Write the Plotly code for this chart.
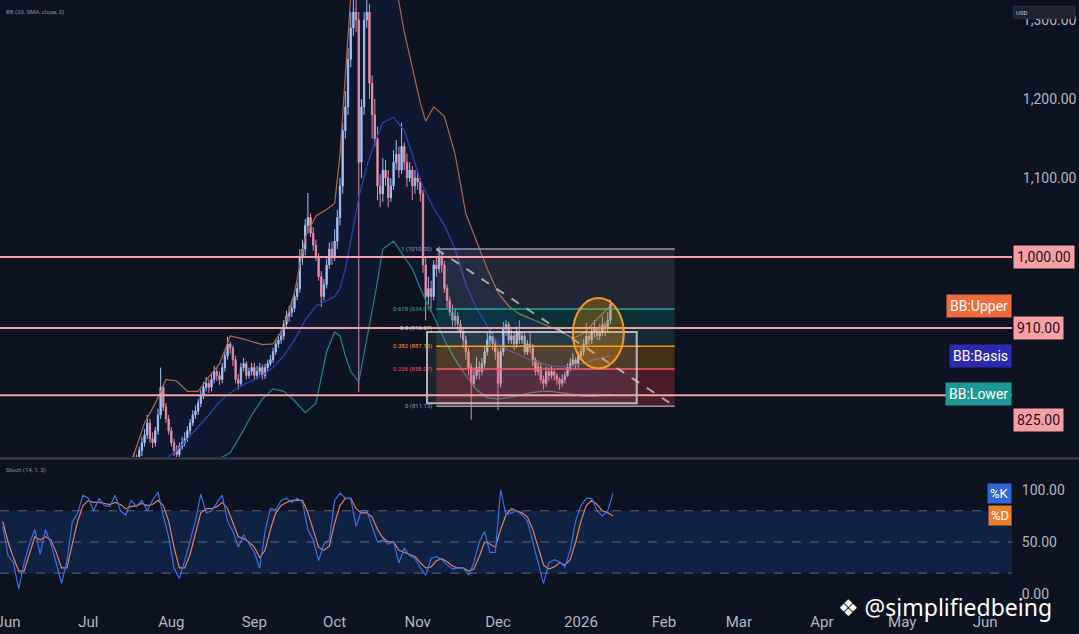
import pandas as pd
import plotly.graph_objects as go

# daily candles 2025-07-14 .. 2026-01-12 (earlier days sit below the visible range)
candle_start = "2025-07-14"
opens = [
    680, 690, 700, 715, 730, 745, 740, 755, 765, 775, 790, 770, 765, 780, 800, 835, 810, 795,  # Jul
    780, 765, 755, 750, 760, 765, 770, 780, 790, 800, 805, 815, 825, 835, 840, 835, 845, 855,
    850, 845, 860, 875, 890, 885, 870, 845, 840, 860, 865, 850, 855,  # Aug
    860, 850, 855, 860, 850, 860, 865, 870, 880, 890, 895, 900, 915, 925, 930, 935, 950, 960,
    1000, 1010, 1040, 1050, 1030, 1015, 1000, 975, 950, 965, 990, 1010,  # Sep
    1000, 1020, 1050, 1090, 1160, 1190, 1250, 1290, 1310, 1300, 1120, 1190, 1300, 1310, 1220,
    1180, 1150, 1090, 1080, 1110, 1100, 1075, 1090, 1120, 1130, 1110, 1140, 1120, 1100, 1110, 1090,  # Oct
    1100, 1095, 1080, 990, 950, 960, 950, 990, 985, 1000, 990, 960, 945, 930, 920, 925, 915, 905,
    895, 880, 860, 840, 850, 860, 855, 865, 880, 895, 900, 890,  # Nov
    880, 840, 880, 910, 915, 895, 900, 890, 905, 895, 900, 880, 890, 885, 870, 855, 860, 845,
    840, 855, 850, 855, 850, 845, 840, 845, 850, 860, 865, 870, 865,  # Dec
    875, 880, 890, 900, 895, 905, 910, 900, 905, 915, 910, 920,  # Jan
]
highs = [
    695, 708, 720, 738, 752, 750, 760, 772, 782, 800, 795, 778, 785, 808, 860, 838, 815, 800,
    785, 770, 762, 765, 772, 778, 786, 795, 806, 812, 820, 832, 842, 848, 845, 852, 862, 860,
    855, 866, 882, 899, 893, 888, 875, 852, 866, 872, 868, 860, 866,
    866, 862, 866, 864, 865, 870, 876, 885, 896, 902, 908, 920, 932, 938, 945, 958, 968, 1010,
    1022, 1048, 1081, 1055, 1038, 1022, 1005, 982, 972, 998, 1018, 1020,
    1035, 1060, 1100, 1170, 1210, 1265, 1310, 1340, 1335, 1310, 1200, 1310, 1370, 1320, 1230,
    1200, 1165, 1105, 1125, 1123, 1110, 1100, 1135, 1148, 1140, 1170, 1145, 1131, 1120, 1115, 1110,
    1110, 1100, 1085, 1000, 975, 970, 996, 1000, 1013, 1005, 995, 965, 950, 940, 935, 930, 920, 910,
    900, 885, 865, 860, 873, 868, 872, 888, 904, 910, 905, 895,
    885, 885, 918, 920, 918, 908, 905, 912, 920, 905, 904, 895, 904, 890, 873, 868, 865, 850,
    861, 860, 862, 858, 853, 848, 852, 855, 865, 872, 878, 873, 880,
    886, 896, 916, 905, 912, 920, 912, 915, 925, 918, 930, 946,
]
lows = [
    675, 685, 695, 710, 725, 735, 735, 748, 760, 770, 765, 758, 760, 775, 795, 805, 790, 775,
    760, 748, 742, 746, 756, 760, 766, 776, 786, 795, 800, 810, 820, 830, 828, 830, 840, 843,
    838, 840, 855, 870, 878, 862, 840, 832, 836, 855, 845, 846, 850,
    844, 845, 850, 845, 846, 855, 862, 866, 876, 885, 890, 895, 910, 918, 924, 930, 945, 955,
    990, 1002, 1030, 1025, 1008, 995, 970, 937, 945, 960, 985, 990,
    995, 1010, 1040, 1080, 1150, 1180, 1240, 1280, 1285, 829, 1100, 1180, 1290, 1200, 1150,
    1140, 1072, 1063, 1070, 1090, 1063, 1070, 1085, 1110, 1100, 1105, 1110, 1089, 1095, 1072, 1080,
    1085, 1070, 980, 920, 940, 935, 945, 975, 980, 980, 955, 935, 925, 912, 912, 905, 898, 885,
    870, 850, 794, 835, 845, 845, 850, 860, 875, 888, 882, 870,
    806, 835, 875, 900, 890, 890, 882, 885, 890, 890, 876, 876, 878, 862, 850, 850, 840, 832,
    836, 843, 846, 844, 838, 832, 836, 840, 848, 855, 862, 858, 860,
    870, 875, 885, 888, 890, 898, 895, 895, 900, 900, 905, 915,
]
closes = [
    690, 700, 715, 730, 745, 740, 755, 765, 775, 790, 770, 765, 780, 800, 835, 810, 795, 780,
    765, 755, 750, 760, 765, 770, 780, 790, 800, 805, 815, 825, 835, 840, 835, 845, 855, 850,
    845, 860, 875, 890, 885, 870, 845, 840, 860, 865, 850, 855, 860,
    850, 855, 860, 850, 860, 865, 870, 880, 890, 895, 900, 915, 925, 930, 935, 950, 960, 1000,
    1010, 1040, 1050, 1030, 1015, 1000, 975, 950, 965, 990, 1010, 1000,
    1020, 1050, 1090, 1160, 1190, 1250, 1290, 1310, 1300, 1120, 1190, 1300, 1310, 1220, 1180,
    1150, 1090, 1080, 1110, 1100, 1075, 1090, 1120, 1130, 1110, 1140, 1120, 1100, 1110, 1090, 1100,
    1095, 1080, 990, 950, 960, 950, 990, 985, 1000, 990, 960, 945, 930, 920, 925, 915, 905, 895,
    880, 860, 840, 850, 860, 855, 865, 880, 895, 900, 890, 880,
    840, 880, 910, 915, 895, 900, 890, 905, 895, 900, 880, 890, 885, 870, 855, 860, 845, 840,
    855, 850, 855, 850, 845, 840, 845, 850, 860, 865, 870, 865, 875,
    880, 890, 900, 895, 905, 910, 900, 905, 915, 910, 920, 940,
]

# Bollinger bands (20, SMA, close, 2)
bb_dates = [
    "2025-07-14", "2025-07-18", "2025-07-22", "2025-07-26", "2025-07-30", "2025-08-03",
    "2025-08-07", "2025-08-11", "2025-08-15", "2025-08-19", "2025-08-23", "2025-08-27",
    "2025-08-31", "2025-09-04", "2025-09-08", "2025-09-12", "2025-09-16", "2025-09-20",
    "2025-09-24", "2025-09-28", "2025-10-01", "2025-10-03", "2025-10-05", "2025-10-07",
    "2025-10-10", "2025-10-13", "2025-10-16", "2025-10-19", "2025-10-23", "2025-10-27",
    "2025-10-30", "2025-11-02", "2025-11-04", "2025-11-07", "2025-11-11", "2025-11-15",
    "2025-11-19", "2025-11-23", "2025-11-27", "2025-12-01", "2025-12-05", "2025-12-09",
    "2025-12-13", "2025-12-17", "2025-12-21", "2025-12-25", "2025-12-29", "2026-01-02",
    "2026-01-06", "2026-01-12",
]
bb_upper = [
    725, 750, 790, 815, 845, 843, 830, 830, 848, 865, 900, 897,
    893, 889, 890, 910, 955, 1025, 1052, 1060, 1068, 1130, 1230, 1330,
    1400, 1440, 1440, 1410, 1360, 1285, 1240, 1195, 1172, 1190, 1178, 1130,
    1055, 1020, 985, 955, 938, 928, 922, 916, 911, 905, 897, 903,
    918, 938,
]
bb_basis = [
    670, 690, 710, 725, 745, 755, 770, 785, 800, 817, 828, 837,
    843, 850, 860, 875, 895, 920, 938, 945, 950, 960, 985, 1020,
    1075, 1115, 1145, 1170, 1177, 1160, 1130, 1097, 1082, 1062, 1040, 1010,
    965, 935, 912, 890, 882, 876, 870, 866, 862, 861, 862, 866,
    870, 875,
]
bb_lower = [
    615, 630, 640, 645, 645, 660, 695, 728, 742, 745, 752, 775,
    800, 820, 833, 830, 818, 803, 815, 880, 905, 900, 875, 855,
    842, 895, 950, 1010, 1020, 1000, 985, 960, 945, 925, 895, 870,
    850, 832, 822, 820, 822, 825, 828, 830, 830, 828, 826, 824,
    824, 826,
]

# Stoch (14, 1, 3), one reading every two days from 2025-05-30
stoch_start = "2025-05-30"
stoch_k = [
    65, 37, 30, 5, 30, 48, 62, 38, 62, 48,
    30, 10, 32, 69, 78, 95, 92, 80, 92, 85,
    84, 95, 80, 76, 90, 84, 90, 80, 90, 98,
    75, 55, 25, 15, 32, 50, 70, 96, 78, 80,
    88, 95, 70, 60, 45, 57, 48, 40, 25, 60,
    82, 81, 90, 92, 88, 92, 88, 62, 52, 32,
    48, 52, 90, 97, 92, 92, 65, 80, 80, 66,
    50, 52, 48, 50, 30, 44, 37, 34, 25, 18,
    34, 36, 33, 28, 24, 25, 25, 18, 30, 50,
    60, 40, 40, 100, 76, 78, 80, 76, 70, 50,
    30, 10, 30, 33, 31, 26, 42, 70, 85, 92,
    92, 80, 75, 80, 97,
]
stoch_d = [
    70, 50, 35, 22, 22, 38, 55, 52, 55, 52,
    40, 25, 25, 48, 70, 85, 90, 88, 88, 87,
    86, 88, 86, 82, 84, 85, 87, 85, 86, 90,
    85, 70, 45, 25, 25, 38, 58, 78, 82, 82,
    84, 88, 82, 68, 55, 53, 50, 45, 35, 42,
    62, 78, 85, 88, 90, 90, 90, 78, 62, 45,
    42, 46, 68, 85, 92, 92, 82, 78, 78, 74,
    62, 54, 50, 50, 42, 40, 38, 36, 30, 25,
    26, 32, 34, 31, 27, 25, 25, 22, 24, 36,
    50, 48, 45, 62, 76, 82, 80, 78, 74, 62,
    45, 28, 24, 26, 30, 28, 33, 50, 70, 85,
    90, 86, 80, 78, 75,
]

# drawings
key_levels = [1000, 910, 825]
key_labels = ["1,000.00", "910.00", "825.00"]
fib_start, fib_end = "2025-11-08", "2026-02-05"
fib_ratios = ["1", "0.618", "0.5", "0.382", "0.236", "0"]
fib_prices = [1010.00, 934.01, 910.57, 887.13, 858.07, 811.13]
fib_colors = ["#9598a1", "#22ab94", "#c8cad0", "#ff9800", "#f7525f", "#9598a1"]
fib_fills = ["rgba(149,152,161,0.16)", "rgba(8,153,129,0.22)", "rgba(60,150,140,0.16)",
             "rgba(255,152,0,0.22)", "rgba(242,54,69,0.26)"]
box_x = ["2025-11-04 12:00", "2026-01-21 20:00"]
box_y = [815, 905]
circle_x = ["2025-12-29", "2026-01-17"]
circle_y = [859, 948]

month_ticks = ["2025-06-01", "2025-07-01", "2025-08-01", "2025-09-01", "2025-10-01",
               "2025-11-01", "2025-12-01", "2026-01-01", "2026-02-01", "2026-03-01",
               "2026-04-01", "2026-05-01", "2026-06-01"]
month_labels = ["Jun", "Jul", "Aug", "Sep", "Oct", "Nov", "Dec", "2026",
                "Feb", "Mar", "Apr", "May", "Jun"]
price_ticks = [1100, 1200, 1300]
stoch_ticks = [0, 50, 100]

BG = "#0e1321"
AXIS = "#b2b5be"
FONT = "Roboto, sans-serif"

dates = pd.date_range(candle_start, periods=len(closes), freq="D")
stoch_dates = pd.date_range(stoch_start, periods=len(stoch_k), freq="2D")

fig = go.Figure()

# bands
fig.add_trace(go.Scatter(x=bb_dates, y=bb_upper, mode="lines",
                         line=dict(color="#a9664a", width=1.2), hoverinfo="skip"))
fig.add_trace(go.Scatter(x=bb_dates, y=bb_lower, mode="lines",
                         line=dict(color="#1f857d", width=1.2), fill="tonexty",
                         fillcolor="rgba(41,98,255,0.07)", hoverinfo="skip"))
fig.add_trace(go.Scatter(x=bb_dates, y=bb_basis, mode="lines",
                         line=dict(color="#2b41b8", width=1.2), hoverinfo="skip"))

fig.add_trace(go.Candlestick(
    x=dates, open=opens, high=highs, low=lows, close=closes,
    increasing=dict(line=dict(color="#a9c1f2", width=1), fillcolor="#c9d8fa"),
    decreasing=dict(line=dict(color="#ef8e9c", width=1), fillcolor="#f4a7b2"),
    whiskerwidth=0,
))

# stochastic
fig.add_trace(go.Scatter(x=stoch_dates, y=stoch_d, mode="lines", xaxis="x2", yaxis="y2",
                         line=dict(color="#e07f5f", width=1.2), hoverinfo="skip"))
fig.add_trace(go.Scatter(x=stoch_dates, y=stoch_k, mode="lines", xaxis="x2", yaxis="y2",
                         line=dict(color="#3a6ee8", width=1.2), hoverinfo="skip"))

shapes = []
# stoch band and guides
shapes.append(dict(type="rect", xref="x2 domain", yref="y2", x0=0, x1=1, y0=20, y1=80,
                   fillcolor="rgba(33,120,243,0.16)", line_width=0, layer="below"))
for v in [80, 50, 20]:
    shapes.append(dict(type="line", xref="x2 domain", yref="y2", x0=0, x1=1, y0=v, y1=v,
                       line=dict(color="rgba(140,145,160,0.6)", width=1, dash="dash")))

# fib retracement zones and levels
for i in range(len(fib_fills)):
    shapes.append(dict(type="rect", xref="x", yref="y", x0=fib_start, x1=fib_end,
                       y0=fib_prices[i + 1], y1=fib_prices[i],
                       fillcolor=fib_fills[i], line_width=0))
for p, c in zip(fib_prices, fib_colors):
    shapes.append(dict(type="line", xref="x", yref="y", x0=fib_start, x1=fib_end,
                       y0=p, y1=p, line=dict(color=c, width=1.5)))
shapes.append(dict(type="line", xref="x", yref="y", x0=fib_start, x1=fib_end,
                   y0=fib_prices[0], y1=fib_prices[-1],
                   line=dict(color="rgba(200,204,214,0.75)", width=2, dash="dash")))

# range box
shapes.append(dict(type="rect", xref="x", yref="y", x0=box_x[0], x1=box_x[1],
                   y0=box_y[0], y1=box_y[1], fillcolor="rgba(255,255,255,0.07)",
                   line=dict(color="rgba(225,228,235,0.75)", width=2)))

# key horizontal levels
for lv in key_levels:
    shapes.append(dict(type="line", xref="x domain", yref="y", x0=0, x1=1, y0=lv, y1=lv,
                       line=dict(color="#f4a3aa", width=2)))

# highlight circle
shapes.append(dict(type="circle", xref="x", yref="y", x0=circle_x[0], x1=circle_x[1],
                   y0=circle_y[0], y1=circle_y[1], fillcolor="rgba(255,152,0,0.28)",
                   line=dict(color="#f39a2a", width=2)))

# pane separator
shapes.append(dict(type="line", xref="paper", yref="paper", x0=0, x1=1.07,
                   y0=0.2358, y1=0.2358, line=dict(color="#3a3e4a", width=2)))

annotations = []
for p, r, c in zip(fib_prices, fib_ratios, fib_colors):
    annotations.append(dict(x=fib_start, y=p, xref="x", yref="y", text=f"{r} ({p:.2f})",
                            showarrow=False, xanchor="right", xshift=-2,
                            font=dict(size=6, color=c, family=FONT)))

for lv, lab, sh in zip(key_levels, key_labels, [0, 0, -25]):
    annotations.append(dict(x=1.0, y=lv, xref="paper", yref="y", text=lab, showarrow=False,
                            xanchor="left", xshift=1, yshift=sh, bgcolor="#f5a0a5",
                            borderpad=3, font=dict(size=14, color="#2a1418", family=FONT)))

bb_labels = [("BB:Upper", bb_upper[-1], "#ef6a3c"),
             ("BB:Basis", bb_basis[-1], "#2d2ab2"),
             ("BB:Lower", bb_lower[-1], "#1e9892")]
for txt, v, col in bb_labels:
    annotations.append(dict(x=1.0, y=v, xref="paper", yref="y", text=txt, showarrow=False,
                            xanchor="right", bgcolor=col, borderpad=3,
                            font=dict(size=14, color="white", family=FONT)))

annotations.append(dict(x=1.0, y=stoch_k[-1], xref="paper", yref="y2", text="%K",
                        showarrow=False, xanchor="right", bgcolor="#3466d4", borderpad=2,
                        font=dict(size=13, color="white", family=FONT)))
annotations.append(dict(x=1.0, y=stoch_d[-1], xref="paper", yref="y2", text="%D",
                        showarrow=False, xanchor="right", bgcolor="#ee7d2e", borderpad=2,
                        font=dict(size=13, color="white", family=FONT)))

annotations.append(dict(x=1.0, y=1.0, xref="paper", yref="paper", text="USD",
                        showarrow=False, xanchor="left", yanchor="top", xshift=1, yshift=-6,
                        bgcolor="#1f232e", bordercolor="#2c303b", borderpad=2, width=56,
                        align="left", font=dict(size=6, color="#c0c3cc", family=FONT)))

annotations.append(dict(x=0.004, y=0.99, xref="paper", yref="paper",
                        text="BB (20, SMA, close, 2)", showarrow=False,
                        xanchor="left", yanchor="top",
                        font=dict(size=6, color="#8a8e99", family=FONT)))
annotations.append(dict(x=0.004, y=0.226, xref="paper", yref="paper",
                        text="Stoch (14, 1, 3)", showarrow=False,
                        xanchor="left", yanchor="top",
                        font=dict(size=6, color="#8a8e99", family=FONT)))

annotations.append(dict(x=0.826, y=-0.012, xref="paper", yref="paper",
                        text="❖ @simplifiedbeing", showarrow=False,
                        xanchor="left", yanchor="middle",
                        font=dict(size=23, color="#ffffff", family="Noto Sans, DejaVu Sans")))

x_range = ["2025-05-29", "2026-06-11"]

fig.update_layout(
    width=1079, height=634,
    margin=dict(l=0, r=67, t=0, b=34, autoexpand=False),
    paper_bgcolor=BG, plot_bgcolor=BG,
    showlegend=False,
    font=dict(family=FONT, color=AXIS),
    shapes=shapes, annotations=annotations,
    xaxis=dict(domain=[0, 1], anchor="y", type="date", range=x_range, automargin=False,
               showticklabels=False, showgrid=False, zeroline=False,
               rangeslider=dict(visible=False)),
    yaxis=dict(domain=[0.2383, 1], anchor="x", range=[746.8, 1325.3], side="right",
               automargin=False,
               tickvals=price_ticks, ticktext=[f"{v:,.2f}" for v in price_ticks],
               ticks="outside", ticklen=7, tickcolor="rgba(0,0,0,0)",
               tickfont=dict(size=14, color=AXIS), showgrid=False, zeroline=False),
    xaxis2=dict(domain=[0, 1], anchor="y2", type="date", range=x_range, matches="x",
                automargin=False, ticklabeloverflow="allow",
                tickvals=month_ticks, ticktext=month_labels,
                ticks="outside", ticklen=8, tickcolor="rgba(0,0,0,0)",
                tickfont=dict(size=15, color=AXIS), showgrid=False, zeroline=False),
    yaxis2=dict(domain=[0, 0.2333], anchor="x2", range=[-5.8, 128.8], side="right",
                automargin=False,
                tickvals=stoch_ticks, ticktext=[f"{v:.2f}" for v in stoch_ticks],
                ticks="outside", ticklen=6, tickcolor="rgba(0,0,0,0)",
                tickfont=dict(size=14, color=AXIS), showgrid=False, zeroline=False),
)

# the page body has a default 8px margin; drop it so the figure sits at the corner
fig.write_html("out.html", config={"displayModeBar": False},
               post_script="document.body.style.margin='0';"
                           "document.body.style.background='" + BG + "';")
